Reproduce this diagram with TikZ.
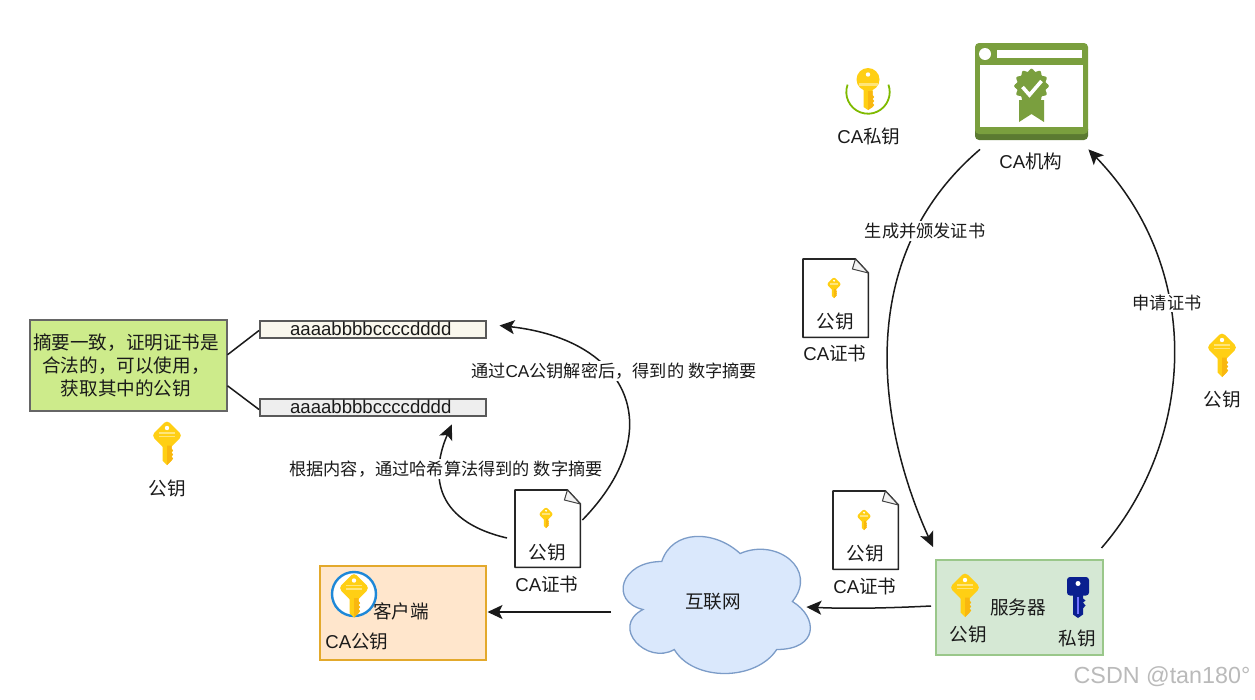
\documentclass[tikz,border=0pt]{standalone}
\usepackage{fontspec}
\setmainfont{Noto Sans CJK SC}
\newfontfamily\lat{Liberation Sans}
\usetikzlibrary{arrows.meta,calc}
\definecolor{keygold}{HTML}{FFCF14}
\definecolor{keylight}{HTML}{FFE57A}
\definecolor{keydark}{HTML}{F9B70F}
\definecolor{caGreen}{HTML}{7A9F3E}
\definecolor{caDark}{HTML}{5B7A31}
\definecolor{inkline}{HTML}{1A1A1A}
\definecolor{navyK}{HTML}{0A1F8F}
\definecolor{gbox}{HTML}{CDEB8B}
\definecolor{barA}{HTML}{F9F7ED}
\definecolor{barB}{HTML}{EEEEEE}
\definecolor{clientB}{HTML}{E3A92C}
\definecolor{clientF}{HTML}{FFE6CC}
\definecolor{serverB}{HTML}{9AC78A}
\definecolor{serverF}{HTML}{D5E8D4}
\definecolor{cloudB}{HTML}{7C9CC8}
\definecolor{cloudF}{HTML}{DAE8FC}
\definecolor{clientRing}{HTML}{1E88D8}
\definecolor{ringG}{HTML}{7FBA00}
\def\keyround{4pt}
\tikzset{
  x=1pt,y=-1pt,
  txt/.style={font=\fontsize{18.6}{22}\selectfont,text=inkline,inner sep=0pt},
  lbl/.style={font=\fontsize{17.2}{21}\selectfont,text=inkline,fill=white,inner sep=1.5pt},
  edge/.style={draw=inkline,line width=1.5pt},
  arr/.style={edge,-{Stealth[length=15pt,width=14pt,inset=3.5pt]}},
  box/.style={draw,line width=1.5pt,inner sep=0pt,anchor=north west},
  bar/.style={box,draw=black!65,minimum width=226pt,minimum height=17pt,
     font=\fontsize{18.6}{20}\selectfont\lat,text=inkline},
  blank/.style={inner sep=0pt,anchor=north west},
  goldkey/.pic={
    \fill[keygold,rounded corners=\keyround] (0,-23.5)--(15.5,-8)--(0,7.5)--(-15.5,-8)--cycle;
    \fill[keygold] (-4.5,0)--(4.5,0)--(4.5,5)--(6,7)--(4.5,9)--(6,11)--(4.5,13)--(6,15)--(4.5,17)--(0,21.5)--(-4.5,17)--cycle;
    \fill[keydark] (0,2)--(4.5,2)--(4.5,5)--(6,7)--(4.5,9)--(6,11)--(4.5,13)--(6,15)--(4.5,17)--(0,21.5)--cycle;
    \fill[keylight] (-8,-11.5) rectangle (8,-9.8);
    \fill[keylight] (-8,-8) rectangle (8,-6.3);
    \fill[white] (0,-15.5) circle[radius=2.2];
  },
  roundkey/.pic={
    \fill[keygold] (0,-9.5) circle[radius=11.5];
    \fill[keygold] (-4.5,0)--(4.5,0)--(4.5,6)--(6,8)--(4.5,10)--(6,12)--(4.5,14)--(6,16)--(4.5,18)--(0,21)--(-4.5,18)--cycle;
    \fill[keydark] (0,2)--(4.5,2)--(4.5,6)--(6,8)--(4.5,10)--(6,12)--(4.5,14)--(6,16)--(4.5,18)--(0,21)--cycle;
    \fill[keylight] (-9.5,-6.5) rectangle (9.5,-3);
    \fill[white] (0,-14.5) circle[radius=2.2];
  },
  navykey/.pic={
    \fill[navyK,rounded corners=3pt] (-11,-20.5) rectangle (11,-2);
    \fill[navyK] (-5,-4)--(5,-4)--(5,1)--(7.5,3)--(5,5)--(7.5,8)--(5,11)--(5,17)--(0,20.5)--(-5,17)--cycle;
    \fill[white] (0,-14) circle[radius=2.5];
    \fill[blue!55!white] (-1,-1) rectangle (0.6,16);
  }
}
\newcommand{\docshape}[1]{%
  \draw[line width=1.6pt,draw=black!85,fill=white,line join=round]
    (#1.north west)--([shift={(-13,0)}]#1.north east)--([shift={(0,14)}]#1.north east)--(#1.south east)--(#1.south west)--cycle;
  \draw[line width=1pt,draw=black!75,fill=black!5,line join=round]
    ([shift={(-13,0)}]#1.north east)--([shift={(-16,10)}]#1.north east)--([shift={(0,14)}]#1.north east)--cycle;
}
\begin{document}
\begin{tikzpicture}
\useasboundingbox (0,0) rectangle (1255,699);
\fill[white] (0,0) rectangle (1255,699);

% boxes and named holders
\node[blank,minimum width=113pt,minimum height=97pt] (ca) at (975,43) {};
\node[box,draw=black!60,fill=gbox,minimum width=197pt,minimum height=91pt] (ok) at (29,319) {};
\node[bar,fill=barA] (d1) at (259,320) {\hspace*{-4pt}aaaabbbbccccdddd};
\node[bar,fill=barB] (d2) at (259,398) {\hspace*{-4pt}aaaabbbbccccdddd};
\node[box,draw=clientB,fill=clientF,minimum width=166pt,minimum height=94pt] (client) at (319,565) {};
\node[box,draw=serverB,fill=serverF,minimum width=167pt,minimum height=95pt] (server) at (935,559) {};
\node[blank,minimum width=65pt,minimum height=77pt] (cert1) at (515,490) {};
\node[blank,minimum width=65pt,minimum height=78pt] (cert2) at (833,491) {};
\node[blank,minimum width=65pt,minimum height=78pt] (cert3) at (803,259) {};
\node[blank,minimum width=189pt,minimum height=136pt] (net) at (622,537) {};

% CA icon
\fill[caDark,rounded corners=4pt] (975,125) rectangle (1088,140);
\fill[caGreen,rounded corners=4pt] (975,43) rectangle (1088,134);
\fill[white] (985,54) circle[radius=6];
\fill[white] (997,50) rectangle (1082,58);
\fill[white] (980,65) rectangle (1083,127);
\fill[caGreen] (1019,100)--(1044,100)--(1044,122)--(1031.5,114)--(1019,122)--cycle;
\fill[caGreen] plot[samples=121,domain=0:360] ({1031.5+(16+1.3*cos(\x*12))*cos(\x)},{86+(16+1.3*cos(\x*12))*sin(\x)})--cycle;
\draw[white,line width=3.6pt] (1022.5,87)--(1029.5,95)--(1041.5,81);

% CA private key
\draw[draw=ringG,line width=1.8pt] (847.6,84.6) arc (200:-20:21.7);
\pic at (868,89) {roundkey};

% connectors
\draw[arr] ([shift={(5,9)}]ca.south west) .. controls (850,260) and (880,430) .. ([shift={(-2,-12)}]server.north west);
\draw[arr] ([shift={(-2,-11)}]server.north east) .. controls (1195,440) and (1205,270) .. ([shift={(0,9)}]ca.south east);
\draw[arr] ([shift={(-4,47)}]server.north west) .. controls (890,608) and (850,609) .. ([shift={(-5,70)}]net.north east);
\draw[arr] ([shift={(-11,75)}]net.north west) -- ([shift={(1,47)}]client.north east);
\draw[arr] ([shift={(2,30)}]cert1.north east) .. controls (670,430) and (630,340) .. ([shift={(13,-13)}]d1.south east);
\draw[arr] ([shift={(-8,48)}]cert1.north west) .. controls (430,520) and (432,470) .. ([shift={(79,8)}]d2.south);
\draw[edge] ([shift={(0,-10.5)}]ok.east) -- ([shift={(0,-8)}]d1.south west);
\draw[edge] ([shift={(0,20.5)}]ok.east) -- ([shift={(0,-7)}]d2.south west);

% cloud (draw.io outline)
\begin{scope}[shift={(609.5,521.5)},x=209pt,y=-160pt]
\draw[draw=cloudB,fill=cloudF,line width=1.3pt]
  (.25,.25) .. controls (.05,.25) and (0,.5) .. (.16,.55)
  .. controls (0,.66) and (.18,.9) .. (.31,.8)
  .. controls (.4,1) and (.7,1) .. (.8,.8)
  .. controls (1,.8) and (1,.6) .. (.875,.5)
  .. controls (1,.3) and (.8,.1) .. (.625,.2)
  .. controls (.5,.05) and (.3,.05) .. (.25,.25) -- cycle;
\end{scope}
\node[txt] at (713,602) {互联网};

% certificates
\docshape{cert1}\docshape{cert2}\docshape{cert3}
\begingroup\def\keyround{2pt}
\pic[scale=.47] at (546,518) {goldkey};
\pic[scale=.47] at (864,520) {goldkey};
\pic[scale=.47] at (834,288) {goldkey};
\endgroup
\node[txt] at (547,552) {公钥};
\node[txt] at (865,553) {公钥};
\node[txt] at (835,321) {公钥};
\node[txt] at (547,584) {{\lat CA}证书};
\node[txt] at (865,586) {{\lat CA}证书};
\node[txt] at (835,353) {{\lat CA}证书};

% keys
\pic at (167,443.5) {goldkey};
\pic at (1222,355.5) {goldkey};
\pic at (965,595.5) {goldkey};
\pic at (1078,597.5) {navykey};
\draw[draw=clientRing,fill=white,line width=2.4pt] (354,594) circle[radius=22];
\pic at (354,596) {goldkey};

% labels
\node[txt] at (869,136) {{\lat CA}私钥};
\node[txt] at (1031,161) {{\lat CA}机构};
\node[txt] at (167,488) {公钥};
\node[txt] at (1222,399) {公钥};
\node[txt] at (401,611) {客户端};
\node[txt] at (357,641) {{\lat CA}公钥};
\node[txt] at (1018,607) {服务器};
\node[txt] at (968,634) {公钥};
\node[txt] at (1077,638) {私钥};
\node[txt,align=center,font=\fontsize{18.6}{23}\selectfont] at (126,365) {摘要一致，证明证书是\\合法的，可以使用，\\获取其中的公钥};
\node[lbl] at (925,231) {生成并颁发证书};
\node[lbl] at (1167,303) {申请证书};
\node[lbl] at (614,371) {通过{\lat CA}公钥解密后，得到的 数字摘要};
\node[lbl] at (446,469) {根据内容，通过哈希算法得到的 数字摘要};
\node[font=\fontsize{23.3}{25}\selectfont\lat,text=black!27,inner sep=0pt] at (1162,677) {CSDN @tan180°};
\end{tikzpicture}
\end{document}
